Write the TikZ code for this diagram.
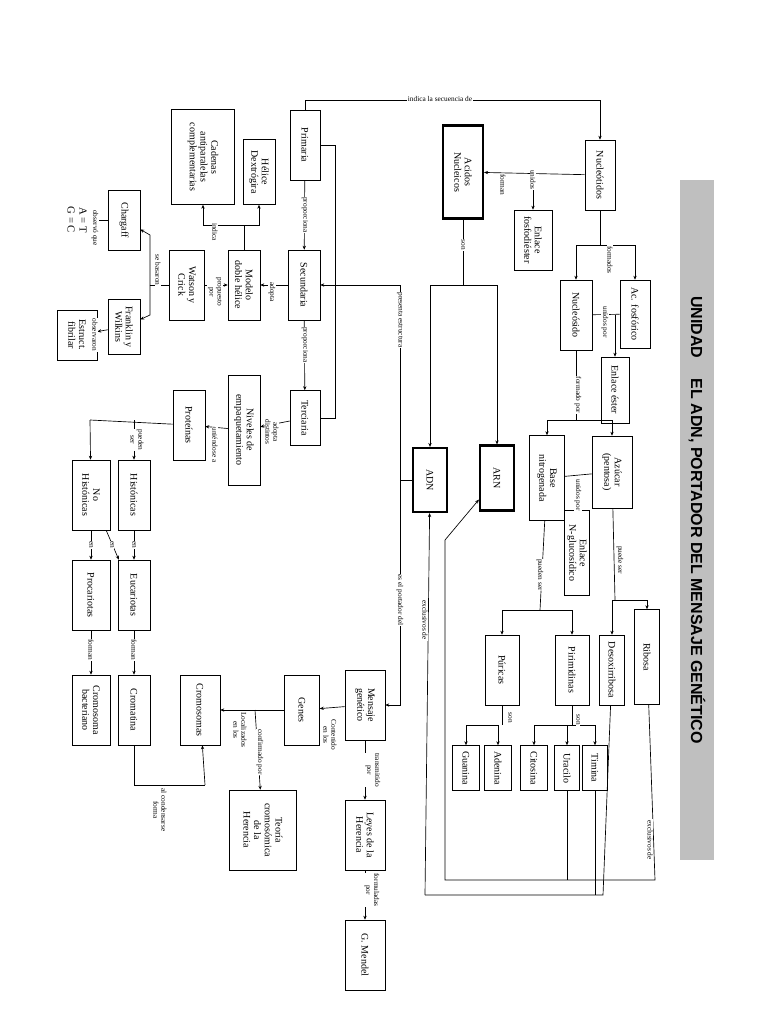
\documentclass[tikz,border=0pt]{standalone}
\usepackage{fontspec}
\setmainfont{Liberation Serif}
\newfontfamily\titlefont{Liberation Sans}
\usetikzlibrary{arrows.meta}
\tikzset{
 box/.style={draw, rotate=-90, align=center, font=\fontsize{7.5}{8}\selectfont, inner sep=1pt, fill=white},
 tbox/.style={box, line width=1.6pt},
 lbl/.style={rotate=-90, font=\fontsize{5.5}{6}\selectfont, inner sep=0.5pt, fill=white, align=center},
 con/.style={line width=0.5pt},
 arr/.style={con, -{Stealth[length=3pt,width=2.5pt]}}
}
\newcommand\bx[7][box]{\node[#1, minimum width=#6*0.75pt, minimum height=#5*0.75pt] (#2) at (#3,#4) {#7};}
\newcommand\lb[3]{\node[lbl] at (#1,#2) {#3};}
\begin{document}
\begin{tikzpicture}[x=0.75pt,y=-0.75pt]
\useasboundingbox (0,0) rectangle (768,1024);
\fill[white] (0,0) rectangle (768,1024);
% title
\node[fill=black!25, rotate=-90, minimum width=680*0.75pt, minimum height=34*0.75pt, font=\titlefont\bfseries\fontsize{12}{13}\selectfont] (title) at (697,520) {UNIDAD \quad EL ADN, PORTADOR DEL MENSAJE GENÉTICO};
% nodes
\bx{nuc}{600}{175}{30}{70}{Nucleótidos}
\bx[tbox]{acn}{463}{172}{40}{93}{Acidos\\Nucleicos}
\bx{efd}{533}{240}{38}{60}{Enlace\\fosfodiéster}
\bx{acf}{635}{314}{30}{68}{Ac. fosfórico}
\bx{nsd}{576}{315}{32}{70}{Nucleósido}
\bx{ees}{615}{390}{28}{66}{Enlace éster}
\bx{azu}{612}{472}{40}{72}{Azúcar\\(pentosa)}
\bx{base}{547}{478}{35}{85}{Base\\nitrogenada}
\bx{eng}{577}{553}{25}{85}{Enlace\\N-glucosídico}
\bx[tbox]{arn}{497}{478}{34}{65}{ARN}
\bx[tbox]{adn}{430}{480}{34}{64}{ADN}
\bx{rib}{647}{657}{25}{95}{Ribosa}
\bx{des}{612}{670}{25}{70}{Desoxirribosa}
\bx{pir}{572}{670}{34}{70}{Pirimidinas}
\bx{pur}{502}{670}{34}{70}{Púricas}
\bx{tim}{595}{768}{25}{45}{Timina}
\bx{ura}{567}{768}{25}{45}{Uracilo}
\bx{cit}{534}{768}{27}{45}{Citosina}
\bx{ade}{498}{768}{27}{45}{Adenina}
\bx{gua}{466}{768}{27}{45}{Guanina}
\bx{men}{365}{705}{40}{70}{Mensaje\\genético}
\bx{ley}{365}{835}{40}{70}{Leyes de la\\Herencia}
\bx{men2}{365}{955}{40}{70}{G. Mendel}
\bx{gen}{302}{710}{35}{70}{Genes}
\bx{cro}{200}{710}{40}{70}{Cromosomas}
\bx{teo}{263}{830}{67}{80}{Teoría\\cromosómica\\de la\\Herencia}
\bx{crt}{134}{710}{32}{70}{Cromatina}
\bx{crb}{91}{710}{38}{70}{Cromosoma\\bacteriano}
\bx{euc}{134}{595}{32}{70}{Eucariotas}
\bx{pro}{91}{595}{38}{70}{Procariotas}
\bx{his}{134}{495}{32}{70}{Histónicas}
\bx{nhi}{91}{495}{38}{70}{No\\Histónicas}
\bx{prt}{189}{425}{32}{70}{Proteínas}
\bx{niv}{244}{430}{32}{110}{Niveles de\\empaquetamiento}
\bx{ter}{305}{418}{30}{55}{Terciaria}
\bx{sec}{304}{285}{32}{70}{Secundaria}
\bx{pri}{305}{145}{30}{70}{Primaria}
\bx{hel}{259}{172}{32}{65}{Hélice\\Dextrógira}
\bx{cad}{203}{157}{63}{95}{Cadenas\\antiparalelas\\complementarias}
\bx{mod}{244}{285}{32}{70}{Modelo\\doble hélice}
\bx{wat}{187}{285}{35}{70}{Watson y\\Crick}
\bx{cha}{124}{220}{32}{60}{Chargaff}
\node[rotate=-90, align=center, font=\fontsize{8}{9}\selectfont] (at) at (77,220) {A = T\\G = C};
\bx{fra}{124}{327}{32}{55}{Franklin y\\Wilkins}
\bx{est}{77}{335}{40}{50}{Estruct.\\fibrilar}
% connectors
\draw[arr] (pri) -- (305,100) -- (600,100) -- (nuc);
\node[font=\fontsize{5.5}{6}\selectfont, fill=white, inner sep=0.5pt] at (440,99) {indica la secuencia de};
\draw[arr] (nuc) -- (acn);
\draw[arr] (533,175) -- (efd);
\lb{503}{185}{forman}\lb{533}{180}{unidos}
\draw[con] (nuc) -- (600,245);
\draw[arr] (576,245) -- (635,245) -- (acf); \draw[arr] (576,245) -- (nsd);
\lb{610}{260}{formados}
\draw[con] (nsd) -- (acf); \draw[arr] (615,315) -- (ees);
\lb{605}{322}{unidos por}
\draw[con] (nsd) -- (576,420);
\draw[arr] (547,420) -- (612,420) -- (azu); \draw[arr] (547,420) -- (base);
\lb{578}{395}{formado por}
\draw[con] (azu) -- (base); \draw[arr] (577,480) -- (eng);
\lb{578}{495}{unidos por}
\draw[con] (azu) -- (615,600);
\draw[arr] (612,600) -- (647,600) -- (rib); \draw[arr] (612,600) -- (des);
\lb{620}{560}{puede ser}
\draw[con] (base) -- (540,610);
\draw[arr] (502,610) -- (572,610) -- (pir); \draw[arr] (502,610) -- (pur);
\lb{540}{575}{pueden ser}
\draw[con] (pir) -- (572,725); \draw[con] (534,725) -- (595,725);
\draw[arr] (595,725) -- (tim); \draw[arr] (567,725) -- (ura); \draw[arr] (534,725) -- (cit);
\lb{578}{720}{son}
\draw[con] (pur) -- (502,725); \draw[con] (466,725) -- (498,725);
\draw[arr] (498,725) -- (ade); \draw[arr] (466,725) -- (gua);
\lb{510}{718}{son}
\draw[con] (acn) -- (463,285);
\draw[arr] (430,285) -- (497,285) -- (arn); \draw[arr] (430,285) -- (adn);
\lb{463}{245}{son}
\draw[con] (rib) -- (655,880) -- (445,880) -- (445,540); \draw[arr] (445,540) -- (arn);
\draw[con] (ura) -- (567,880);
\lb{650}{840}{exclusivos de}
\draw[con] (des) -- (603,895) -- (425,895); \draw[arr] (425,895) -- (adn);
\draw[con] (tim) -- (595,895);
\lb{425}{620}{exclusivos de}
\draw[con] (adn) -- (400,480);
\draw[arr] (400,480) -- (400,285) -- (sec);
\draw[arr] (400,480) -- (400,705) -- (men);
\lb{400}{320}{presenta estructura}\lb{400}{600}{es el portador del}
\draw[arr] (pri) -- (sec); \lb{305}{215}{proporciona}
\draw[arr] (sec) -- (ter); \lb{305}{345}{proporciona}
\draw[con] (pri) -- (335,145) -- (335,418) -- (ter);
\draw[arr] (sec) -- (mod); \lb{272}{292}{adopta}
\draw[arr] (wat) -- (mod); \lb{215}{292}{propuesto\\por}
\draw[con] (mod) -- (244,225) -- (203,225); \draw[arr] (203,225) -- (cad); \draw[arr] (244,225) -- (259,225) -- (hel);
\lb{215}{232}{indica}
\draw[con] (wat) -- (150,285);
\draw[arr] (150,285) -- (150,235) -- (cha); \draw[arr] (150,285) -- (150,315) -- (fra);
\lb{158}{270}{se basaron}
\draw[arr] (cha) -- (at); \lb{95}{228}{observó que}
\draw[arr] (fra) -- (est); \lb{95}{335}{observaron}
\draw[arr] (ter) -- (niv); \lb{272}{432}{adopta\\distintos}
\draw[arr] (niv) -- (prt); \lb{215}{445}{uniéndose a}
\draw[con] (prt) -- (90,420);
\draw[arr] (134,420) -- (his); \draw[arr] (90,420) -- (nhi);
\lb{137}{440}{pueden\\ser}
\draw[arr] (his) -- (euc); \lb{134}{545}{en}
\draw[arr] (nhi) -- (pro); \lb{91}{545}{en}
\draw[arr] (nhi) -- (euc); \lb{112}{545}{en}
\draw[arr] (euc) -- (crt); \lb{134}{650}{forman}
\draw[arr] (pro) -- (crb); \lb{91}{650}{forman}
\draw[con] (crt) -- (134,785) -- (205,785); \draw[arr] (205,785) -- (cro);
\lb{160}{810}{al condensarse\\forma}
\draw[arr] (men) -- (gen); \lb{330}{735}{Contenido\\en los}
\draw[arr] (gen) -- (cro); \lb{240}{730}{Localizados\\en los}
\draw[arr] (255,710) -- (teo); \lb{260}{752}{confirmado por}
\draw[arr] (men) -- (ley); \lb{373}{770}{transmitido\\por}
\draw[arr] (ley) -- (men2); \lb{372}{890}{formuladas\\por}
\end{tikzpicture}
\end{document}
